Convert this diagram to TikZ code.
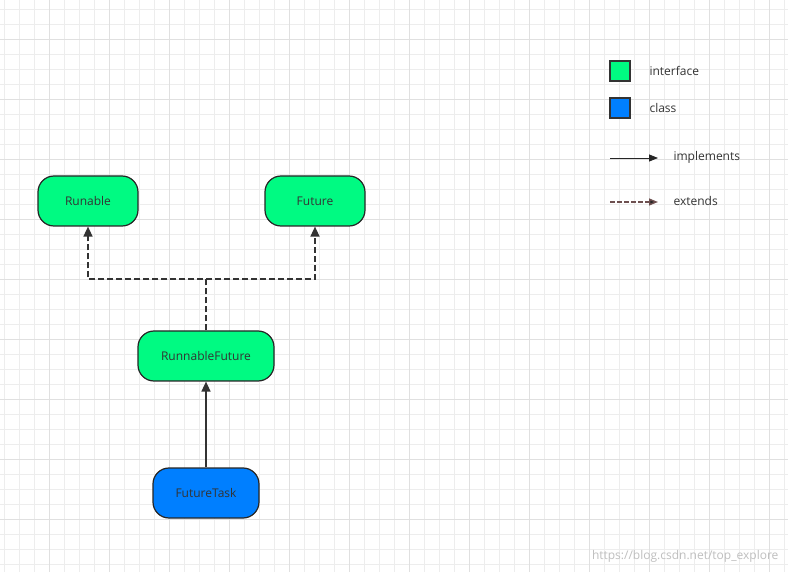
\documentclass[tikz,border=0pt]{standalone}
\usepackage{fontspec}
\setmainfont{Open Sans}
\usetikzlibrary{arrows.meta}
\begin{document}
\begin{tikzpicture}[x=1pt,y=-1pt,
  box/.style={draw=black!85,line width=1.2pt,rounded corners=16pt,minimum height=50pt,font=\fontsize{12}{14}\selectfont,text=black!80},
  iface/.style={box,fill={rgb,255:red,0;green,250;blue,130}},
  cls/.style={box,fill={rgb,255:red,0;green,127;blue,255}},
  impl/.style={line width=1.5pt,draw=black!80,-{Triangle[length=10pt,width=9pt]}},
  ext/.style={impl,dash pattern=on 6pt off 3pt},
  lab/.style={anchor=west,font=\fontsize{12}{14}\selectfont,text=black!80}]
\useasboundingbox (0,0) rectangle (788,572);
\fill[white] (0,0) rectangle (788,572);
\foreach \x in {4,19,...,788} \draw[black!7,line width=0.6pt] (\x,0) -- (\x,572);
\foreach \y in {9,24,...,572} \draw[black!7,line width=0.6pt] (0,\y) -- (788,\y);
\foreach \x in {49,109,...,788} \draw[black!12,line width=0.6pt] (\x,0) -- (\x,572);
\foreach \y in {39,99,...,572} \draw[black!12,line width=0.6pt] (0,\y) -- (788,\y);
\node[iface,minimum width=100pt] (run) at (88,201) {Runable};
\node[iface,minimum width=100pt] (fut) at (315,201) {Future};
\node[iface,minimum width=136pt] (rf) at (206,356) {RunnableFuture};
\node[cls,minimum width=106pt] (ft) at (206,493) {FutureTask};
\coordinate (j) at (206,279);
\draw[ext] (rf.north) -- (j) -| (run.south);
\draw[ext] (j) -| (fut.south);
\draw[impl] (ft.north) -- (rf.south);
\node[draw=black!80,line width=1.5pt,fill={rgb,255:red,0;green,250;blue,130},minimum size=20pt,inner sep=0] (li) at (620,71) {};
\node[lab] (lit) at (646,71) {interface};
\node[draw=black!80,line width=1.5pt,fill={rgb,255:red,0;green,127;blue,255},minimum size=20pt,inner sep=0] (lc) at (620,108) {};
\node[lab] (lct) at (646,108) {class};
\coordinate (a1) at (610,158); \coordinate (a2) at (658,158);
\draw[line width=0.8pt,black!85,-{Triangle[length=9pt,width=7pt]}] (a1) -- (a2);
\node[lab] (lim) at (670,157) {implements};
\coordinate (b1) at (610,202); \coordinate (b2) at (658,202);
\draw[line width=1.4pt,draw={rgb,255:red,110;green,80;blue,80},dash pattern=on 5pt off 2pt,-{Triangle[length=9pt,width=7pt,fill=black!85]}] (b1) -- (b2);
\node[lab] (lex) at (670,201) {extends};
\node[anchor=south east,font=\fontsize{12}{14}\selectfont,text=black!25] (wm) at (782,566) {https://blog.csdn.net/top\_explore};
\end{tikzpicture}
\end{document}
